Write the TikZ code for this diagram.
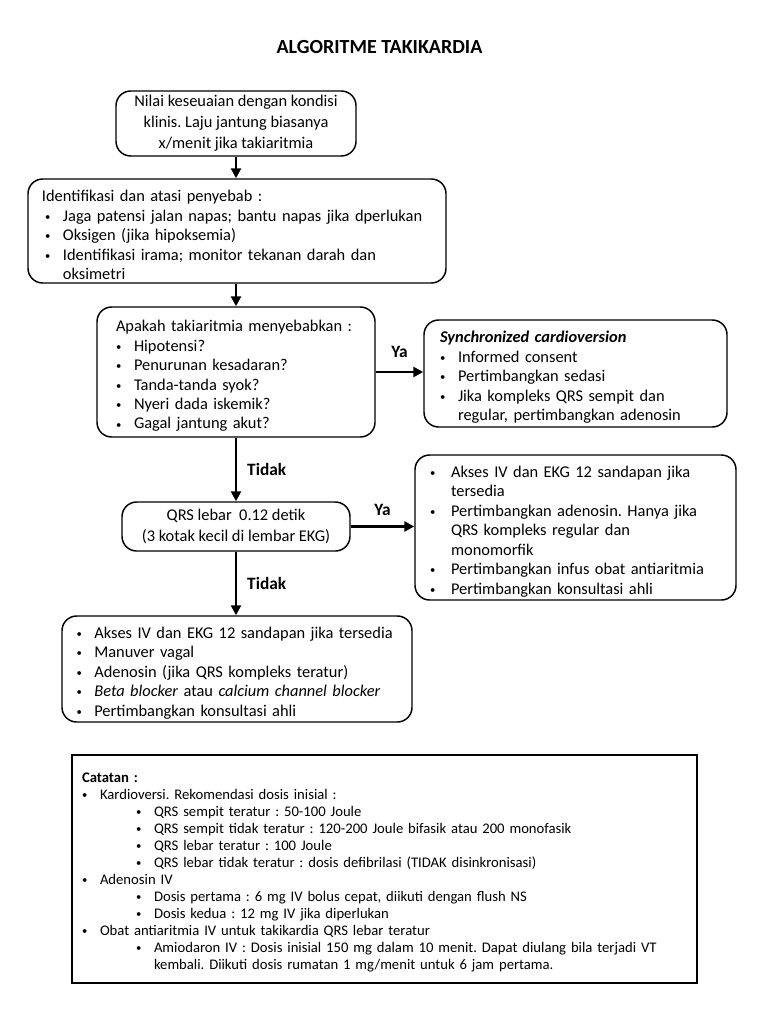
\documentclass[tikz,border=0pt]{standalone}
\usepackage{fontspec}
\setmainfont{Carlito}
\usetikzlibrary{arrows.meta}
\frenchspacing
\hyphenpenalty=10000
\exhyphenpenalty=10000
\newcommand\bulletmark{\raisebox{0.12ex}{\fontsize{8}{8}\selectfont\textbullet}}
\newcommand\hdr[2]{\par\leftskip=#1\relax\noindent #2}
\newcommand\itm[3]{\par\leftskip=#2\relax\noindent\llap{\makebox[\dimexpr#2-#1\relax][l]{\bulletmark}}#3}
\tikzset{
  box/.style={draw, line width=1.1pt, rounded corners=11pt, inner xsep=0pt, inner ysep=0pt,
    font=\fontsize{12.3}{14.6}\selectfont},
  lbox/.style={box, align=left},
  cbox/.style={box, align=center, font=\fontsize{12.3}{15.75}\selectfont},
  note/.style={draw, line width=1.6pt, inner xsep=0pt, inner ysep=0pt, align=left,
    font=\fontsize{11}{12.75}\selectfont},
  arr/.style={line width=2.2pt, -{Triangle[length=7.5pt,width=7.5pt]}},
  lab/.style={font=\bfseries\fontsize{13}{15}\selectfont},
}
\begin{document}
\begin{tikzpicture}[x=0.75pt,y=-0.75pt]
\useasboundingbox (0,0) rectangle (768,1024);
\fill[white] (0,0) rectangle (768,1024);

\node[font=\bfseries\fontsize{15}{17}\selectfont] (title) at (379.5,47) {ALGORITME TAKIKARDIA};

\node[cbox, minimum width=180pt, minimum height=48.75pt] (b1) at (236,123.5)
 {Nilai keseuaian dengan kondisi\\klinis. Laju jantung biasanya\\x/menit jika takiaritmia};

\node[lbox, minimum width=313.5pt, minimum height=78pt, text width=309pt] (b2) at (237,231)
 {\hdr{8.25pt}{Identifikasi dan atasi penyebab :}
 \itm{10.5pt}{24pt}{Jaga patensi jalan napas; bantu napas jika dperlukan}
 \itm{10.5pt}{24pt}{Oksigen (jika hipoksemia)}
 \itm{10.5pt}{24pt}{Identifikasi irama; monitor tekanan darah dan\newline oksimetri}\par};

\node[lbox, minimum width=208.5pt, minimum height=97.5pt, text width=204pt] (b3) at (236,372)
 {\hdr{12pt}{Apakah takiaritmia menyebabkan :}
 \itm{12pt}{25.5pt}{Hipotensi?}
 \itm{12pt}{25.5pt}{Penurunan kesadaran?}
 \itm{12pt}{25.5pt}{Tanda-tanda syok?}
 \itm{12pt}{25.5pt}{Nyeri dada iskemik?}
 \itm{12pt}{25.5pt}{Gagal jantung akut?}\par};

\node[lbox, minimum width=227.25pt, minimum height=80.25pt, text width=222.75pt] (b4) at (575.5,373.5)
 {\hdr{9.75pt}{\textbf{\textit{Synchronized cardioversion}}}
 \itm{9.75pt}{23.25pt}{Informed consent}
 \itm{9.75pt}{23.25pt}{Pertimbangkan sedasi}
 \itm{9.75pt}{23.25pt}{Jika kompleks QRS sempit dan\newline regular, pertimbangkan adenosin}\par};

\node[cbox, minimum width=171pt, minimum height=36.75pt] (b5) at (236,526.5)
 {QRS lebar\ \ 0.12 detik\\(3 kotak kecil di lembar EKG)};

\node[lbox, minimum width=240.75pt, minimum height=108.75pt, text width=236.25pt] (b6) at (575.5,527.5)
 {\itm{9pt}{24.75pt}{Akses IV dan EKG 12 sandapan jika\newline tersedia}
 \itm{9pt}{24.75pt}{Pertimbangkan adenosin. Hanya jika\newline QRS kompleks regular dan\newline monomorfik}
 \itm{9pt}{24.75pt}{Pertimbangkan infus obat antiaritmia}
 \itm{9pt}{24.75pt}{Pertimbangkan konsultasi ahli}\par};

\node[lbox, minimum width=262.5pt, minimum height=79.5pt, text width=258pt] (b7) at (237,669)
 {\itm{8.75pt}{22pt}{Akses IV dan EKG 12 sandapan jika tersedia}
 \itm{8.75pt}{22pt}{Manuver vagal}
 \itm{8.75pt}{22pt}{Adenosin (jika QRS kompleks teratur)}
 \itm{8.75pt}{22pt}{\textit{Beta blocker} atau \textit{calcium channel blocker}}
 \itm{8.75pt}{22pt}{Pertimbangkan konsultasi ahli}\par};

\node[note, minimum width=468.75pt, minimum height=171pt, text width=464.25pt] (nb) at (384.5,869)
 {\hdr{5.25pt}{\textbf{Catatan :}}
 \itm{5.25pt}{18.75pt}{Kardioversi. Rekomendasi dosis inisial :}
 \itm{45.75pt}{59.25pt}{QRS sempit teratur : 50-100 Joule}
 \itm{45.75pt}{59.25pt}{QRS sempit tidak teratur : 120-200 Joule bifasik atau 200 monofasik}
 \itm{45.75pt}{59.25pt}{QRS lebar teratur : 100 Joule}
 \itm{45.75pt}{59.25pt}{QRS lebar tidak teratur : dosis defibrilasi (TIDAK disinkronisasi)}
 \itm{5.25pt}{18.75pt}{Adenosin IV}
 \itm{45.75pt}{59.25pt}{Dosis pertama : 6 mg IV bolus cepat, diikuti dengan flush NS}
 \itm{45.75pt}{59.25pt}{Dosis kedua : 12 mg IV jika diperlukan}
 \itm{5.25pt}{18.75pt}{Obat antiaritmia IV untuk takikardia QRS lebar teratur}
 \itm{45.75pt}{59.25pt}{Amiodaron IV : Dosis inisial 150 mg dalam 10 menit. Dapat diulang bila terjadi VT\newline kembali. Diikuti dosis rumatan 1 mg/menit untuk 6 jam pertama.}\par};

\draw[arr] (b1.south) -- (b2.north -| b1.south);
\draw[arr] (b2.south -| b1.south) -- (b3.north);
\draw[arr] (b3.east |- 0,372) -- (b4.west |- 0,372) node[lab, midway, above=6pt] (ya1) {Ya};
\draw[arr] (b3.south) -- (b5.north) node[lab, midway, right=4pt] (t1) {Tidak};
\draw[arr] (b5.east) -- (b6.west |- b5.east) node[lab, midway, above=3.5pt] (ya2) {Ya};
\draw[arr] (b5.south) -- (b7.north -| b5.south) node[lab, midway, right=4pt] (t2) {Tidak};
\end{tikzpicture}
\end{document}
